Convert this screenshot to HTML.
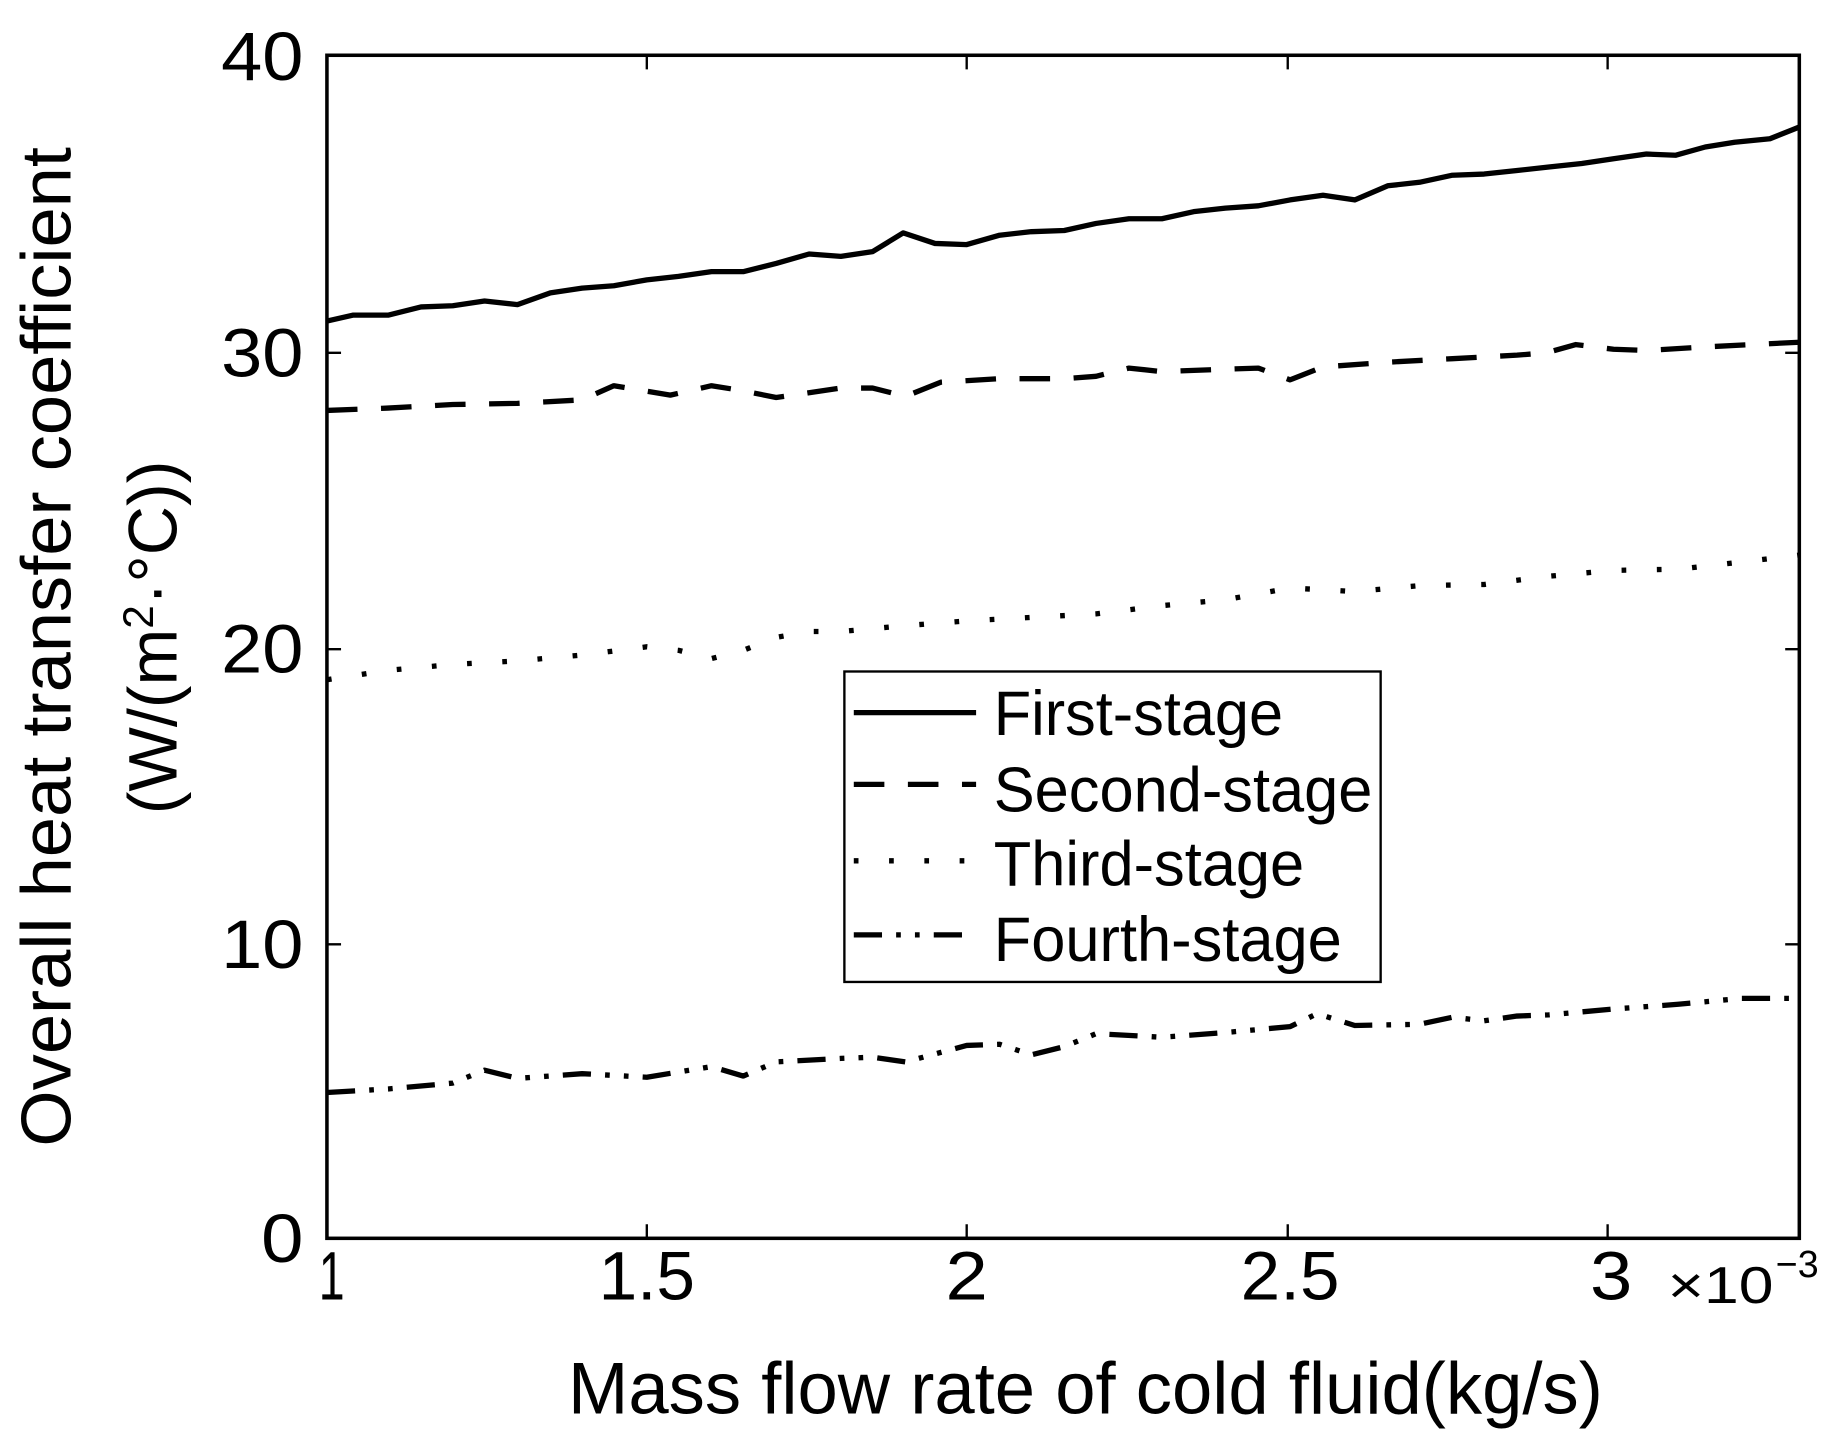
<!DOCTYPE html>
<html><head><style>html,body{margin:0;padding:0;background:#fff}svg{display:block}</style></head>
<body>
<svg width="1844" height="1440" viewBox="0 0 1568 1224.5" preserveAspectRatio="none" xmlns="http://www.w3.org/2000/svg" font-family="Liberation Sans, Arial, sans-serif">
<rect width="1568" height="1224.5" fill="#fff"/>
<g fill="none" stroke="#000" stroke-width="4.5" stroke-linejoin="round">
<polyline points="278,273 300,268 330,268 358,261 385,260 412,256 440,259 468,249 495,245 522,243 550,238 577,235 605,231 632,231 660,224 688,216 715,218 742,214 768,198 795,207 822,208 850,200 877,197 905,196 932,190 960,186 988,186 1015,180 1042,177 1070,175 1097,170 1125,166 1152,170 1180,158 1207,155 1235,149 1262,148 1290,145 1317,142 1345,139 1372,135 1400,131 1425,132 1450,125 1475,121 1505,118 1530,108"/>
<polyline stroke-dasharray="26,20" points="278,349 330,347 385,344 440,343 495,340 522,328 570,336 605,328 630,332 660,338 715,330 742,330 770,337 800,325 850,322 905,322 932,320 960,313 988,316 1040,314 1070,313 1097,323 1125,312 1180,308 1235,305 1290,302 1315,300 1340,293 1372,297 1400,298 1450,295 1530,291"/>
<polyline stroke-dasharray="4,26" points="278,578 330,570 385,565 440,562 495,557 550,550 577,553 605,560 632,553 660,542 688,537 715,537 770,532 822,528 877,525 932,522 988,515 1042,510 1097,500 1152,503 1207,498 1262,497 1317,490 1372,485 1427,484 1480,478 1530,472"/>
<polyline stroke-dasharray="24,12,4,12,4,12" points="278,929 330,926 385,921 412,910 440,917 495,913 550,916 605,907 632,915 660,903 715,900 742,899 770,903 822,889 850,888 877,897 905,890 932,879 988,882 1042,878 1097,873 1120,862 1152,872 1207,871 1235,865 1262,868 1290,864 1317,863 1372,858 1427,854 1480,849 1530,849"/>
</g>
<rect x="278" y="47" width="1252" height="1006" fill="none" stroke="#000" stroke-width="3"/>
<g stroke="#000" stroke-width="2">
<path d="M278,1053h12M278,803h12M278,552h12M278,300h12M278,47h12M1530,1053h-12M1530,803h-12M1530,552h-12M1530,300h-12"/>
<path d="M278,1053v-12M550,1053v-12M822,1053v-12M1095,1053v-12M1367,1053v-12M550,47v12M822,47v12M1095,47v12M1367,47v12"/>
</g>
<g font-size="58" text-anchor="end">
<text x="258" y="1073" textLength="36" lengthAdjust="spacingAndGlyphs">0</text>
<text x="258" y="823" textLength="70" lengthAdjust="spacingAndGlyphs">10</text>
<text x="258" y="572" textLength="70" lengthAdjust="spacingAndGlyphs">20</text>
<text x="258" y="320" textLength="70" lengthAdjust="spacingAndGlyphs">30</text>
<text x="258" y="68" textLength="70" lengthAdjust="spacingAndGlyphs">40</text>
</g>
<g font-size="58" text-anchor="middle">
<text x="282" y="1105" textLength="22" lengthAdjust="spacingAndGlyphs">1</text>
<text x="550" y="1105" textLength="82" lengthAdjust="spacingAndGlyphs">1.5</text>
<text x="822" y="1105" textLength="36" lengthAdjust="spacingAndGlyphs">2</text>
<text x="1097" y="1105" textLength="84" lengthAdjust="spacingAndGlyphs">2.5</text>
<text x="1370" y="1105" textLength="36" lengthAdjust="spacingAndGlyphs">3</text>
</g>
<text x="1418" y="1108" font-size="44" textLength="90" lengthAdjust="spacingAndGlyphs">×10</text>
<text x="1510" y="1086" font-size="32">−3</text>
<text x="923" y="1202" font-size="62" text-anchor="middle" textLength="880" lengthAdjust="spacingAndGlyphs">Mass flow rate of cold fluid(kg/s)</text>
<text transform="translate(60,550) rotate(-90)" font-size="60" text-anchor="middle" textLength="850" lengthAdjust="spacingAndGlyphs">Overall heat transfer coefficient</text>
<text transform="translate(150,542) rotate(-90)" font-size="58" text-anchor="middle">(W/(m<tspan dy="-20" font-size="36">2</tspan><tspan dy="20">·°C))</tspan></text>
<rect x="718" y="571" width="456" height="264" fill="#fff" stroke="#000" stroke-width="2"/>
<g stroke="#000" stroke-width="4.5">
<line x1="726" y1="606" x2="830" y2="606"/>
<line x1="726" y1="667" x2="830" y2="667" stroke-dasharray="26,20"/>
<line x1="726" y1="732" x2="830" y2="732" stroke-dasharray="4,26"/>
<line x1="726" y1="795" x2="830" y2="795" stroke-dasharray="24,12,4,12,4,12"/>
</g>
<g font-size="54">
<text x="845" y="625" textLength="246" lengthAdjust="spacingAndGlyphs">First-stage</text>
<text x="845" y="690" textLength="322" lengthAdjust="spacingAndGlyphs">Second-stage</text>
<text x="845" y="753" textLength="264" lengthAdjust="spacingAndGlyphs">Third-stage</text>
<text x="845" y="817" textLength="296" lengthAdjust="spacingAndGlyphs">Fourth-stage</text>
</g>
</svg>
</body></html>
